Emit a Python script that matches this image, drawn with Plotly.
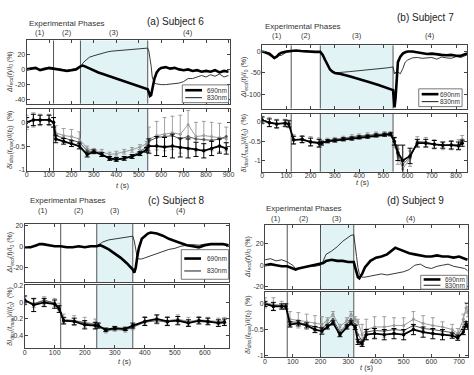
import plotly.graph_objects as go

# ---------------- DATA ----------------
# Subject 6 (a)
a_t_up = [0,20,40,60,80,100,120,140,160,180,200,220,240,250,260,280,300,320,340,360,380,400,420,440,460,480,500,520,540,545,550,555,560,565,570,580,590,600,620,640,660,680,700,720,740,760,780,800,820,840,860,880,900]
a_690 = [0,1,2,-1,1,2,1,0,-1,-2,-1,0,4,5,4,1,-2,-4,-6,-8,-10,-12,-14,-16,-18,-20,-22,-24,-26,-30,-35,-34,-25,-18,-12,-4,0,2,3,1,2,0,-1,0,-2,-1,-3,-2,-3,-1,-4,-2,-3]
a_830 = [0,2,1,0,2,1,0,1,0,-1,0,1,3,8,11,16,18,20,22,23,24,24.5,25,25.5,26,26.5,27,27.5,28,24,15,5,-10,-16,-18,-19,-20,-20,-20,-19,-19,-18,-16,-12,-12,-10,-8,-10,-7,-9,-6,-10,-8]
a_t_lo = [0,30,60,100,120,130,165,200,235,270,300,335,370,400,435,470,505,535,545,580,615,650,685,720,755,790,825,860,890]
a_lo_k = [0,0.05,0.05,0.05,0.0,-0.35,-0.4,-0.45,-0.5,-0.68,-0.62,-0.68,-0.76,-0.78,-0.76,-0.72,-0.66,-0.58,-0.5,-0.5,-0.52,-0.5,-0.53,-0.55,-0.57,-0.6,-0.55,-0.5,-0.55]
a_lo_k_err = [0.1,0.12,0.1,0.1,0.1,0.08,0.06,0.06,0.06,0.05,0.04,0.04,0.04,0.04,0.04,0.04,0.04,0.05,0.15,0.2,0.2,0.25,0.2,0.2,0.15,0.15,0.15,0.15,0.12]
a_lo_g = [0,0.05,0.05,0.05,0.0,-0.22,-0.28,-0.3,-0.35,-0.55,-0.6,-0.62,-0.68,-0.66,-0.62,-0.58,-0.52,-0.45,-0.35,-0.28,-0.25,-0.22,-0.25,-0.05,-0.3,-0.28,-0.3,-0.32,-0.35]
a_lo_g_err = [0.15,0.15,0.12,0.12,0.1,0.15,0.15,0.15,0.15,0.05,0.05,0.05,0.05,0.05,0.05,0.05,0.05,0.05,0.25,0.3,0.35,0.35,0.4,0.3,0.3,0.3,0.3,0.3,0.25]
a_lo_m = [0,0.05,0.05,0.05,0.0,-0.28,-0.33,-0.38,-0.42,-0.6,-0.62,-0.66,-0.78,-0.8,-0.76,-0.7,-0.62,-0.52,-0.4,-0.32,-0.3,-0.28,-0.35,-0.3,-0.35,-0.36,-0.38,-0.35,-0.3]

# Subject 7 (b)
b_t_up = [0,10,20,30,40,50,60,70,80,90,100,120,140,160,180,200,220,240,250,260,270,280,290,300,310,320,360,400,440,480,520,540,543,546,550,555,560,570,580,590,600,620,640,660,680,700,720,740,760,780,800,820,845]
b_690 = [0,-2,-3,-5,-10,-15,-12,-6,-3,-1,0,1,2,1,0,0,-1,-1,-8,-20,-32,-42,-47,-50,-51,-52,-58,-64,-71,-78,-85,-90,-110,-130,-110,-60,-25,-12,-5,-2,0,0,-2,-4,-6,-5,-7,-8,-9,-8,-10,-10,-5]
b_830 = [0,-3,-5,-8,-12,-17,-14,-10,-9,-6,-2,0,1,0,-1,0,-1,-2,-8,-20,-32,-42,-47,-50,-50,-49,-47,-45,-43,-41,-38,-36,-45,-52,-48,-55,-48,-52,-40,-25,-20,-15,-14,-16,-15,-14,-18,-13,-15,-16,-12,-14,-8]
b_t_lo = [0,30,60,95,110,130,165,200,235,245,270,300,335,370,400,435,470,505,530,545,560,580,610,640,675,710,745,780,810,825]
b_lo_k = [0.05,-0.02,-0.05,-0.03,-0.05,-0.47,-0.45,-0.52,-0.55,-0.55,-0.5,-0.48,-0.45,-0.43,-0.4,-0.38,-0.35,-0.33,-0.32,-0.5,-0.8,-1.0,-0.88,-0.55,-0.55,-0.58,-0.6,-0.6,-0.62,-0.55]
b_lo_k_err = [0.08,0.1,0.1,0.08,0.08,0.1,0.08,0.1,0.1,0.05,0.04,0.04,0.04,0.04,0.04,0.04,0.04,0.04,0.04,0.1,0.2,0.4,0.2,0.1,0.1,0.1,0.08,0.1,0.1,0.08]
b_lo_g = [0.05,0.0,-0.05,-0.03,-0.05,-0.45,-0.45,-0.5,-0.53,-0.53,-0.47,-0.45,-0.42,-0.38,-0.36,-0.33,-0.31,-0.3,-0.3,-0.55,-0.9,-1.22,-0.95,-0.5,-0.52,-0.58,-0.62,-0.6,-0.58,-0.45]
b_lo_g_err = [0.1,0.12,0.12,0.1,0.1,0.12,0.1,0.12,0.12,0.05,0.05,0.05,0.05,0.05,0.05,0.05,0.05,0.05,0.05,0.12,0.2,0.2,0.2,0.12,0.12,0.12,0.1,0.12,0.12,0.1]
b_lo_m = [0.05,-0.01,-0.05,-0.03,-0.05,-0.46,-0.45,-0.51,-0.54,-0.54,-0.48,-0.46,-0.43,-0.4,-0.38,-0.35,-0.33,-0.31,-0.31,-0.52,-0.85,-1.1,-0.92,-0.52,-0.53,-0.58,-0.61,-0.6,-0.6,-0.5]

# Subject 8 (c)
c_t_up = [0,20,40,50,60,80,100,120,140,160,180,200,220,240,250,260,280,300,320,340,350,360,365,370,375,380,390,400,410,420,440,460,480,500,520,540,560,580,600,620,640,660,680]
c_690 = [-1,-1,1,2,2,1,0,0,-1,-1,0,-1,0,0,1,0,-3,-7,-11,-16,-19,-22,-25,-20,-10,-2,7,10,12,13,12,10,7,5,3,1,0,-1,1,2,2,2,1]
c_830 = [-1,-1,1,2,2,1,0,0,-1,-1,0,-1,0,0,2,4,6,7,8,9,9,9.5,5,-5,-11,-12,-12,-11,-10,-9,-7,-5,-3,-2,0,1,1.5,1,2,2,2,2,1]
c_t_lo = [0,30,65,100,115,130,165,200,235,245,270,300,335,360,400,440,475,510,545,580,610,645,665]
c_lo_k = [0.03,-0.03,0.0,-0.02,-0.08,-0.22,-0.23,-0.27,-0.28,-0.28,-0.33,-0.31,-0.32,-0.28,-0.23,-0.2,-0.23,-0.22,-0.25,-0.22,-0.23,-0.25,-0.24]
c_lo_k_err = [0.05,0.08,0.05,0.05,0.04,0.04,0.04,0.05,0.04,0.03,0.02,0.02,0.02,0.03,0.05,0.05,0.05,0.05,0.04,0.04,0.04,0.04,0.04]
c_lo_g = [0.02,-0.01,0.02,0.0,-0.05,-0.2,-0.22,-0.24,-0.26,-0.28,-0.35,-0.33,-0.34,-0.3,-0.22,-0.21,-0.22,-0.2,-0.23,-0.21,-0.22,-0.23,-0.22]
c_lo_g_err = [0.05,0.05,0.05,0.05,0.04,0.06,0.06,0.06,0.06,0.03,0.02,0.02,0.02,0.03,0.05,0.05,0.05,0.05,0.05,0.04,0.04,0.04,0.04]
c_lo_m = [0.03,-0.02,0.03,-0.01,-0.06,-0.23,-0.22,-0.25,-0.27,-0.29,-0.34,-0.32,-0.33,-0.3,-0.24,-0.22,-0.24,-0.21,-0.24,-0.23,-0.24,-0.24,-0.23]

# Subject 9 (d)
d_t_up = [0,20,40,60,80,100,110,120,140,160,180,200,210,220,240,260,280,300,310,320,325,330,335,340,350,360,380,400,420,440,460,470,480,500,520,540,560,580,600,620,640,660,680,700,720,730]
d_690 = [0,1,0,-1,-1,-3,-4,-3,-2,-1,0,1,2,4,5,4,4,3,3,3,-2,-8,-11,-12,-8,-2,4,7,8,10,14,16,15,13,11,10,9,8,8,9,8,8,7,8,6,5]
d_830 = [5,6,4,5,3,0,-3,-3,-2,-1,-1,0,4,10,13,17,22,26,27.5,28,20,8,-2,-8,-11,-11,-10,-9,-8,-9,-8,-8,-7,-6,-4,0,1,-2,-3,-1,0,1,-1,-2,-3,-5]
d_t_lo = [0,30,60,75,90,120,150,180,205,225,245,270,295,310,325,335,350,365,395,430,465,500,535,570,605,640,675,695,715,725,732]
d_lo_k = [0.0,-0.05,-0.05,-0.05,-0.4,-0.38,-0.42,-0.5,-0.53,-0.45,-0.37,-0.6,-0.45,-0.37,-0.46,-0.74,-0.78,-0.6,-0.58,-0.6,-0.58,-0.6,-0.5,-0.55,-0.58,-0.6,-0.62,-0.66,-0.55,-0.4,-0.45]
d_lo_k_err = [0.05,0.08,0.05,0.05,0.05,0.05,0.05,0.06,0.06,0.04,0.04,0.04,0.04,0.04,0.04,0.05,0.05,0.1,0.1,0.1,0.1,0.1,0.1,0.1,0.1,0.1,0.05,0.05,0.05,0.05,0.05]
d_lo_g = [0.02,0.0,-0.03,-0.05,-0.3,-0.32,-0.35,-0.38,-0.4,-0.32,-0.2,-0.45,-0.32,-0.2,-0.3,-0.35,-0.6,-0.5,-0.45,-0.45,-0.42,-0.42,-0.3,-0.38,-0.42,-0.45,-0.5,-0.58,-0.3,-0.08,-0.15]
d_lo_g_err = [0.1,0.12,0.08,0.05,0.15,0.15,0.15,0.15,0.15,0.05,0.05,0.05,0.05,0.05,0.05,0.05,0.2,0.2,0.2,0.2,0.15,0.15,0.15,0.15,0.15,0.1,0.1,0.1,0.1,0.1,0.1]
d_lo_m = [0.01,-0.03,-0.04,-0.05,-0.35,-0.36,-0.4,-0.45,-0.47,-0.4,-0.3,-0.55,-0.4,-0.3,-0.4,-0.6,-0.72,-0.55,-0.52,-0.53,-0.5,-0.52,-0.42,-0.48,-0.5,-0.53,-0.56,-0.62,-0.45,-0.35,-0.4]

titles = ["(a) Subject 6", "(b) Subject 7", "(c) Subject 8", "(d) Subject 9"]
phase_bounds = [[120, 240, 540], [120, 240, 540], [120, 240, 360], [80, 200, 320]]
phase_centers = [[60, 180, 390, 720], [60, 180, 390, 692], [60, 180, 300, 520], [40, 140, 260, 526]]
phase_names = ["(1)", "(2)", "(3)", "(4)"]
legend_names = ["690nm", "830nm"]
x_ranges = [[0, 905], [0, 845], [0, 679], [0, 732]]
x_ticks = [list(range(0, 901, 100)), list(range(0, 801, 100)), list(range(0, 601, 100)), list(range(0, 701, 100))]
up_ranges = [[-45, 38], [-133, 14], [-34, 21], [-22, 37]]
up_ticks = [[-40, -20, 0, 20], [-100, -50, 0], [-20, 0, 20], [-20, 0, 20]]
lo_ranges = [[-1.02, 0.29], [-1.29, 0.22], [-0.556, 0.21], [-1.04, 0.23]]
lo_ticks = [[-1, -0.5, 0], [-1, -0.5, 0], [-0.4, -0.2, 0, 0.2], [-1, -0.5, 0]]

up_data = [(a_t_up, a_690, a_830), (b_t_up, b_690, b_830), (c_t_up, c_690, c_830), (d_t_up, d_690, d_830)]
lo_data = [
    (a_t_lo, a_lo_k, a_lo_k_err, a_lo_g, a_lo_g_err, a_lo_m),
    (b_t_lo, b_lo_k, b_lo_k_err, b_lo_g, b_lo_g_err, b_lo_m),
    (c_t_lo, c_lo_k, c_lo_k_err, c_lo_g, c_lo_g_err, c_lo_m),
    (d_t_lo, d_lo_k, d_lo_k_err, d_lo_g, d_lo_g_err, d_lo_m),
]

# ---------------- LAYOUT GEOMETRY (pixels) ----------------
W, H = 474, 375
def X(px): return px / W
def Y(py): return 1 - py / H

geom = [
    dict(x0=25, x1=231, up=(38, 102), lo=(107, 170), title=(176, 19), exp=(66, 21), ph=30, tlab=(122, 185),
         ytu=(8, 70), ytl=(8, 139), leg=(183, 230, 83, 101)),
    dict(x0=264, x1=472, up=(43, 107), lo=(112, 171), title=(430, 15), exp=(306, 24), ph=33, tlab=(366, 182),
         ytu=(246, 75), ytl=(246, 142), leg=(423, 467, 87, 105)),
    dict(x0=23, x1=230, up=(224, 283), lo=(286, 350), title=(177, 200), exp=(67, 200), ph=210, tlab=(124, 363),
         ytu=(8, 253), ytl=(8, 318), leg=(182, 230, 250, 280)),
    dict(x0=267, x1=473, up=(225, 290), lo=(293, 359), title=(420, 200), exp=(307, 208), ph=218, tlab=(370, 369),
         ytu=(249, 257), ytl=(249, 326), leg=(425, 472, 276, 290)),
]

FONT = "Liberation Sans, Arial, sans-serif"
AXC = "#444444"
SHADE = "#e1f3f5"
up_title = "<i>ΔI</i><sub><i>ecd</i></sub>(<i>t</i>)/<i>I</i><sub>0</sub> (%)"
lo_title = "<i>δI</i><sub><i>diss</i></sub>(<i>t</i><sub><i>max</i></sub>)/<i>I</i>(<i>t</i><sub>0</sub>)  (%)"

fig = go.Figure()
layout = dict(width=W, height=H, margin=dict(l=0, r=0, t=0, b=0), paper_bgcolor="white",
              plot_bgcolor="white", showlegend=False, font=dict(family=FONT, size=8, color="#333"))
shapes, annos = [], []

def ax_names(n):
    return ("x" if n == 1 else f"x{n}", "y" if n == 1 else f"y{n}",
            "xaxis" if n == 1 else f"xaxis{n}", "yaxis" if n == 1 else f"yaxis{n}")

def fmt(v):
    return "%g" % v

for i in range(4):
    g = geom[i]
    for part in (0, 1):
        n = 2 * i + 1 + part
        xr, yr, xk, yk = ax_names(n)
        py0, py1 = g["up"] if part == 0 else g["lo"]
        yrange = up_ranges[i] if part == 0 else lo_ranges[i]
        yt = up_ticks[i] if part == 0 else lo_ticks[i]
        layout[xk] = dict(domain=[X(g["x0"]), X(g["x1"])], range=x_ranges[i], anchor=yr,
                          tickvals=x_ticks[i], ticktext=[str(v) for v in x_ticks[i]],
                          showticklabels=(part == 1), ticks="inside", ticklen=3, tickcolor=AXC,
                          mirror="allticks", showline=True, linecolor=AXC, linewidth=1,
                          showgrid=False, zeroline=False, ticklabelstandoff=-3,
                          tickfont=dict(size=7, color="#333"))
        layout[yk] = dict(domain=[Y(py1), Y(py0)], range=yrange, anchor=xr,
                          tickvals=yt, ticktext=[fmt(v) for v in yt],
                          ticks="inside", ticklen=3, tickcolor=AXC,
                          mirror="allticks", showline=True, linecolor=AXC, linewidth=1,
                          showgrid=False, zeroline=False, ticklabelstandoff=-1,
                          tickfont=dict(size=7, color="#333"))
        pb = phase_bounds[i]
        shapes.append(dict(type="rect", xref=xr, yref=yr + " domain", x0=pb[1], x1=pb[2], y0=0, y1=1,
                           fillcolor=SHADE, line=dict(width=0), layer="below"))
        for b in pb:
            shapes.append(dict(type="line", xref=xr, yref=yr + " domain", x0=b, x1=b, y0=0, y1=1,
                               line=dict(color="#555", width=1), layer="below"))
        if part == 0:
            t, v690, v830 = up_data[i]
            fig.add_trace(go.Scatter(x=t, y=v830, xaxis=xr, yaxis=yr, mode="lines",
                                     line=dict(color="#222", width=0.9), name=legend_names[1]))
            fig.add_trace(go.Scatter(x=t, y=v690, xaxis=xr, yaxis=yr, mode="lines",
                                     line=dict(color="black", width=2.6), name=legend_names[0]))
        else:
            t, k, ke, gg, ge, m = lo_data[i]
            fig.add_trace(go.Scatter(x=t, y=gg, xaxis=xr, yaxis=yr, mode="lines+markers",
                                     line=dict(color="#9a9a9a", width=1), marker=dict(size=3, color="#9a9a9a"),
                                     error_y=dict(type="data", array=ge, color="#8a8a8a", thickness=0.8, width=2)))
            fig.add_trace(go.Scatter(x=t, y=m, xaxis=xr, yaxis=yr, mode="lines+markers",
                                     line=dict(color="#555", width=1), marker=dict(size=3, color="#555")))
            fig.add_trace(go.Scatter(x=t, y=k, xaxis=xr, yaxis=yr, mode="lines+markers",
                                     line=dict(color="black", width=1.8), marker=dict(size=3.5, color="black"),
                                     error_y=dict(type="data", array=ke, color="black", thickness=1, width=2.5)))
    # texts
    xr_up = "x" if i == 0 else f"x{2*i+1}"
    annos.append(dict(text=titles[i], x=X(g["title"][0]), y=Y(g["title"][1]), xref="paper", yref="paper",
                      showarrow=False, font=dict(size=10, color="#222"), xanchor="center", yanchor="middle"))
    annos.append(dict(text="Experimental Phases", x=X(g["exp"][0]), y=Y(g["exp"][1]), xref="paper", yref="paper",
                      showarrow=False, font=dict(size=8, color="#333"), xanchor="center", yanchor="middle"))
    for c, nm in zip(phase_centers[i], phase_names):
        annos.append(dict(text=nm, x=c, y=Y(g["ph"]), xref=xr_up, yref="paper", showarrow=False,
                          font=dict(size=7.5, color="#333"), xanchor="center", yanchor="middle"))
    annos.append(dict(text="<i>t</i> (s)", x=X(g["tlab"][0]), y=Y(g["tlab"][1]), xref="paper", yref="paper",
                      showarrow=False, font=dict(size=7.5, color="#333"), xanchor="center", yanchor="middle"))
    annos.append(dict(text=up_title, x=X(g["ytu"][0]), y=Y(g["ytu"][1]), xref="paper", yref="paper",
                      showarrow=False, textangle=-90, font=dict(size=7, color="#333"), xanchor="center", yanchor="middle"))
    annos.append(dict(text=lo_title, x=X(g["ytl"][0]), y=Y(g["ytl"][1]), xref="paper", yref="paper",
                      showarrow=False, textangle=-90, font=dict(size=7, color="#333"), xanchor="center", yanchor="middle"))
    # legend box
    lx0, lx1, ly0, ly1 = g["leg"]
    shapes.append(dict(type="rect", xref="paper", yref="paper", x0=X(lx0), x1=X(lx1), y0=Y(ly1), y1=Y(ly0),
                       fillcolor="white", line=dict(color="#555", width=0.8)))
    hgt = ly1 - ly0
    for j, (nm, wdt) in enumerate(zip(legend_names, [2.6, 0.9])):
        yy = ly0 + hgt * (0.3 if j == 0 else 0.72)
        shapes.append(dict(type="line", xref="paper", yref="paper", x0=X(lx0 + 3), x1=X(lx0 + 20),
                           y0=Y(yy), y1=Y(yy), line=dict(color="black", width=wdt)))
        annos.append(dict(text=nm, x=X(lx1 - 1), y=Y(yy), xref="paper", yref="paper", showarrow=False,
                          font=dict(size=6.5, color="#333"), xanchor="right", yanchor="middle", borderpad=0))

layout["shapes"] = shapes
layout["annotations"] = annos
fig.update_layout(**layout)
fig.write_html("out.html", config={"displayModeBar": False},
               post_script="document.body.style.margin='0';document.body.style.overflow='hidden';")
